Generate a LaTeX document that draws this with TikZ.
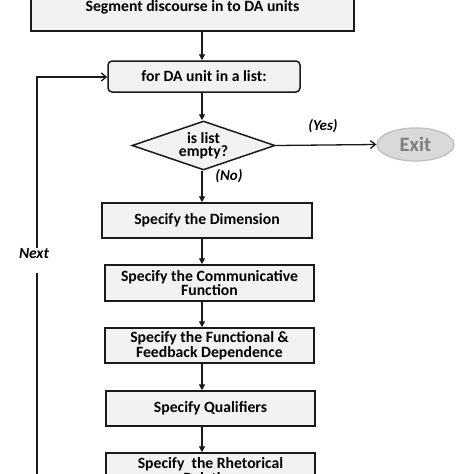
\documentclass[tikz,border=0pt]{standalone}
\usepackage{fontspec}
\setmainfont{Carlito}
\usetikzlibrary{shapes.geometric,arrows.meta}
\definecolor{boxfill}{HTML}{F2F2F2}
\definecolor{boxline}{HTML}{1A1A1A}
\definecolor{exitfill}{HTML}{D9D9D9}
\definecolor{exitline}{HTML}{BFBFBF}
\definecolor{exittext}{HTML}{7F7F7F}
\tikzset{
  stepbox/.style={draw=boxline, fill=boxfill, line width=1.5pt, inner sep=0pt,
    align=center, font=\fontsize{15.7}{14.5}\selectfont\bfseries},
  flowarrow/.style={draw=boxline, line width=1.3pt, -{Triangle[length=6pt,width=6pt]}},
  barbarrow/.style={draw=boxline, line width=1.3pt, -{Straight Barb[length=5pt,width=8pt,line width=1.3pt]}},
  lbl/.style={font=\fontsize{15}{15}\selectfont\bfseries\itshape, inner sep=0pt},
}
\begin{document}
\begin{tikzpicture}[x=1pt,y=-1pt]
\useasboundingbox (0,0) rectangle (474,474);
\clip (0,0) rectangle (474,474);
\fill[white] (0,0) rectangle (474,474);
\coordinate (col) at (202,0);
% nodes
\node[stepbox, minimum width=323pt, minimum height=48pt] (seg) at (192.5,7) {Segment discourse in to DA units};
\node[stepbox, rounded corners=4pt, minimum width=192pt, minimum height=31pt] (for) at (204,76.5) {for DA unit in a list:};
\node[stepbox, shape=diamond, aspect=2.92, minimum width=143pt, minimum height=49pt,
      font=\fontsize{15.7}{12.5}\selectfont\bfseries] (dec) at (203.5,145.5) {is list\\empty?};
\node[draw=exitline, fill=exitfill, line width=1.3pt, ellipse, minimum width=77pt, minimum height=33pt, inner sep=0pt,
      text=exittext, font=\fontsize{20.5}{20.5}\selectfont\bfseries] (exit) at (415.5,144.5) {Exit};
\node[stepbox, minimum width=210pt, minimum height=35pt] (dim) at (207,220.5) {Specify the Dimension};
\node[stepbox, minimum width=209pt, minimum height=36pt] (comm) at (209.5,283) {Specify the Communicative\\Function};
\node[stepbox, minimum width=209pt, minimum height=35pt] (func) at (209.5,345.5) {Specify the Functional \&\\Feedback Dependence};
\node[stepbox, minimum width=209pt, minimum height=35pt] (qual) at (210.5,408.5) {Specify Qualifiers};
\node[stepbox, minimum width=209pt, minimum height=35pt] (rhet) at (210.5,470.5) {Specify\ \ the Rhetorical\\Relation};
\node[lbl, font=\fontsize{15.5}{15.5}\selectfont\bfseries\itshape] (next) at (34,254) {Next};
\node[lbl] (yes) at (323,126.5) {(Yes)};
\node[lbl] (no) at (229,176) {(No)};
% connectors
\draw[flowarrow] (seg.south -| col) -- (for.north -| col);
\draw[flowarrow] (for.south -| col) -- (dec.north -| col);
\draw[flowarrow] (dec.south -| col) -- (dim.north -| col);
\draw[flowarrow] (dim.south -| col) -- (comm.north -| col);
\draw[flowarrow] (comm.south -| col) -- (func.north -| col);
\draw[flowarrow] (func.south -| col) -- (qual.north -| col);
\draw[flowarrow] (qual.south -| col) -- (rhet.north -| col);
\draw[barbarrow] (dec.east) -- (exit.west);
\coordinate (loopbot) at (37,480);
\coordinate (gapbot) at (37,273);
\coordinate (gaptop) at (37,248);
\coordinate (loopcorner) at (37,77);
\draw[draw=boxline, line width=1.3pt] (loopbot) -- (gapbot);
\draw[barbarrow] (gaptop) -- (loopcorner) -- (loopcorner -| for.west);
\end{tikzpicture}
\end{document}
